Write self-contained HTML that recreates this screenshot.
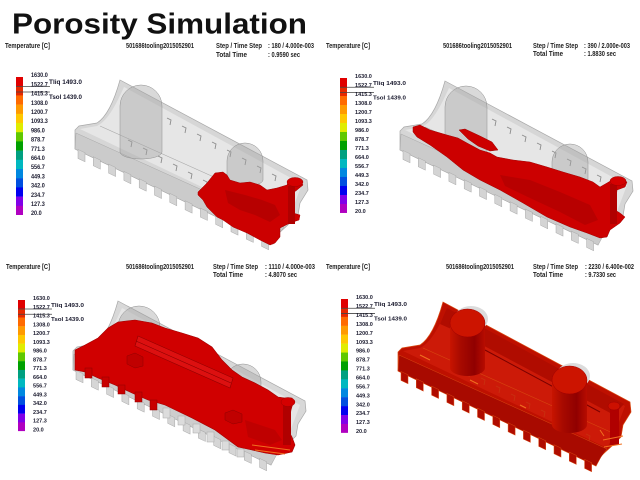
<!DOCTYPE html>
<html>
<head>
<meta charset="utf-8">
<style>
  html,body{margin:0;padding:0;background:#fff;}
  svg{display:block;}
  text{font-family:"Liberation Sans",Arial,sans-serif;font-weight:bold;}
  .h{font-size:7px;fill:#222;}
  .l{font-size:6px;fill:#1a1a2e;}
</style>
</head>
<body>
<svg width="640" height="480" viewBox="0 0 640 480" xmlns="http://www.w3.org/2000/svg">
<defs>
  <g id="cradle">
    <path d="M120,80 L307,180 L308,190 L300,203 L298,215 L290,223 L278,234 L273,244 L75,149 L75,130 L79,126 L97,123 C108,116 115,98 120,80 Z" style="fill:var(--o);stroke:var(--e)" stroke-width="0.7"/>
    <path d="M124,87 L302,184 L296,200 L291,213 L284,226 L80,129 L97,126 C109,120 117,102 124,87 Z" style="fill:var(--i)"/>
    <path d="M76,133 L284,227 L278,235 L273,244 L75,149 Z" style="fill:var(--f);stroke:var(--e)" stroke-width="0.5"/>
    <g transform="translate(75,149) skewY(25.6)" style="fill:var(--t);stroke:var(--e)" stroke-width="0.5">
      <rect x="3" y="-1" width="7" height="9"/>
      <rect x="18.3" y="-1" width="7" height="9"/>
      <rect x="33.6" y="-1" width="7" height="9"/>
      <rect x="48.9" y="-1" width="7" height="9"/>
      <rect x="64.2" y="-1" width="7" height="9"/>
      <rect x="79.5" y="-1" width="7" height="9"/>
      <rect x="94.8" y="-1" width="7" height="9"/>
      <rect x="110.1" y="-1" width="7" height="9"/>
      <rect x="125.4" y="-1" width="7" height="9"/>
      <rect x="140.7" y="-1" width="7" height="9"/>
      <rect x="156" y="-1" width="7" height="9"/>
      <rect x="171.3" y="-1" width="7" height="9"/>
      <rect x="186.6" y="-1" width="7" height="9"/>
    </g>
    <path d="M100,126 L292,212" style="stroke:var(--e)" stroke-width="0.6" fill="none"/>
    <path d="M167,118 l4,2 l-1,5 M182,126 l4,2 l-1,5 M197,134 l4,2 l-1,5 M212,142 l4,2 l-1,5 M227,150 l4,2 l-1,5 M242,158 l4,2 l-1,5 M257,166 l4,2 l-1,5 M272,174 l4,2 l-1,5 M128,140 l4,2 l-1,5 M143,148 l4,2 l-1,5 M158,156 l4,2 l-1,5 M173,164 l4,2 l-1,5 M188,172 l4,2 l-1,5 M203,180 l4,2 l-1,5 M218,188 l4,2 l-1,5 M233,196 l4,2 l-1,5 M248,204 l4,2 l-1,5 M263,212 l4,2 l-1,5" style="stroke:var(--n)" stroke-width="0.9" fill="none"/>
  </g>
  <g id="risers">
    <path d="M120,152 L120,106 A21,21 0 0 1 162,106 L162,152 A21,7 0 0 1 120,152 Z" fill="#a4a4a4" fill-opacity="0.42" stroke="#909090" stroke-width="0.5"/>
    <path d="M227,180 L227,161 A18,18 0 0 1 263,161 L263,180 A18,6 0 0 1 227,180 Z" fill="#a4a4a4" fill-opacity="0.42" stroke="#909090" stroke-width="0.5"/>
  </g>
  <g id="leg">
    <rect x="0" y="0" width="7" height="9.4" fill="#e00000"/>
    <rect x="0" y="9.2" width="7" height="9.4" fill="#e62800"/>
    <rect x="0" y="18.4" width="7" height="9.4" fill="#ff6a00"/>
    <rect x="0" y="27.6" width="7" height="9.4" fill="#ff9a00"/>
    <rect x="0" y="36.8" width="7" height="9.4" fill="#ffc800"/>
    <rect x="0" y="46" width="7" height="9.4" fill="#e0ec00"/>
    <rect x="0" y="55.2" width="7" height="9.4" fill="#60c800"/>
    <rect x="0" y="64.4" width="7" height="9.4" fill="#00a000"/>
    <rect x="0" y="73.6" width="7" height="9.4" fill="#00a080"/>
    <rect x="0" y="82.8" width="7" height="9.4" fill="#00b8c0"/>
    <rect x="0" y="92" width="7" height="9.4" fill="#0088e0"/>
    <rect x="0" y="101.2" width="7" height="9.4" fill="#0050e0"/>
    <rect x="0" y="110.4" width="7" height="9.4" fill="#0000f0"/>
    <rect x="0" y="119.6" width="7" height="9.4" fill="#8000e8"/>
    <rect x="0" y="128.8" width="7" height="9.2" fill="#b000c0"/>
    <line x1="0" y1="9.5" x2="34" y2="9.5" stroke="#444" stroke-width="0.8"/>
    <line x1="0" y1="15" x2="34" y2="15" stroke="#444" stroke-width="0.8"/>
    <g transform="translate(15,0) scale(0.92,1)">
    <text class="l" x="0" y="0.2">1630.0</text>
    <text class="l" x="0" y="9.4">1522.7</text>
    <text class="l" x="0" y="18.6">1415.3</text>
    <text class="l" x="0" y="27.8">1308.0</text>
    <text class="l" x="0" y="37">1200.7</text>
    <text class="l" x="0" y="46.2">1093.3</text>
    <text class="l" x="0" y="55.4">986.0</text>
    <text class="l" x="0" y="64.6">878.7</text>
    <text class="l" x="0" y="73.8">771.3</text>
    <text class="l" x="0" y="83">664.0</text>
    <text class="l" x="0" y="92.2">556.7</text>
    <text class="l" x="0" y="101.4">449.3</text>
    <text class="l" x="0" y="110.6">342.0</text>
    <text class="l" x="0" y="119.8">234.7</text>
    <text class="l" x="0" y="129">127.3</text>
    <text class="l" x="0" y="138.2">20.0</text>
    </g>
    <text class="l" x="33" y="7.2" textLength="33" lengthAdjust="spacingAndGlyphs">Tliq  1493.0</text>
    <text class="l" x="33" y="22.2" textLength="33" lengthAdjust="spacingAndGlyphs">Tsol  1439.0</text>
  </g>
  <linearGradient id="cyl" x1="0" x2="1" y1="0" y2="0">
    <stop offset="0" stop-color="#c81400"/>
    <stop offset="0.3" stop-color="#a80a00"/>
    <stop offset="0.7" stop-color="#900000"/>
    <stop offset="1" stop-color="#b80c00"/>
  </linearGradient>
</defs>

<text x="12" y="33.5" font-size="29" fill="#111" textLength="295" lengthAdjust="spacingAndGlyphs">Porosity Simulation</text>

<text class="h" x="5" y="48" textLength="45" lengthAdjust="spacingAndGlyphs">Temperature [C]</text>
<text class="h" x="126" y="48" textLength="68" lengthAdjust="spacingAndGlyphs">501686tooling2015052901</text>
<text class="h" x="216" y="48" textLength="46" lengthAdjust="spacingAndGlyphs">Step / Time Step</text>
<text class="h" x="268" y="48" textLength="46" lengthAdjust="spacingAndGlyphs">: 180 / 4.000e-003</text>
<text class="h" x="216" y="57" textLength="31" lengthAdjust="spacingAndGlyphs">Total  Time</text>
<text class="h" x="268" y="57" textLength="32" lengthAdjust="spacingAndGlyphs">: 0.9590 sec</text>

<text class="h" x="326" y="48" textLength="44" lengthAdjust="spacingAndGlyphs">Temperature [C]</text>
<text class="h" x="443" y="48" textLength="69" lengthAdjust="spacingAndGlyphs">501686tooling2015052901</text>
<text class="h" x="533" y="48" textLength="45" lengthAdjust="spacingAndGlyphs">Step / Time Step</text>
<text class="h" x="584" y="48" textLength="46" lengthAdjust="spacingAndGlyphs">: 390 / 2.000e-003</text>
<text class="h" x="533" y="56" textLength="30" lengthAdjust="spacingAndGlyphs">Total  Time</text>
<text class="h" x="584" y="56" textLength="32" lengthAdjust="spacingAndGlyphs">: 1.8830 sec</text>

<text class="h" x="6" y="269" textLength="44" lengthAdjust="spacingAndGlyphs">Temperature [C]</text>
<text class="h" x="126" y="269" textLength="68" lengthAdjust="spacingAndGlyphs">501686tooling2015052901</text>
<text class="h" x="213" y="269" textLength="45" lengthAdjust="spacingAndGlyphs">Step / Time Step</text>
<text class="h" x="265" y="269" textLength="50" lengthAdjust="spacingAndGlyphs">: 1110 / 4.000e-003</text>
<text class="h" x="213" y="277" textLength="30" lengthAdjust="spacingAndGlyphs">Total  Time</text>
<text class="h" x="265" y="277" textLength="32" lengthAdjust="spacingAndGlyphs">: 4.8070 sec</text>

<text class="h" x="326" y="269" textLength="44" lengthAdjust="spacingAndGlyphs">Temperature [C]</text>
<text class="h" x="446" y="269" textLength="68" lengthAdjust="spacingAndGlyphs">501686tooling2015052901</text>
<text class="h" x="533" y="269" textLength="45" lengthAdjust="spacingAndGlyphs">Step / Time Step</text>
<text class="h" x="585" y="269" textLength="49" lengthAdjust="spacingAndGlyphs">: 2230 / 6.400e-002</text>
<text class="h" x="533" y="277" textLength="30" lengthAdjust="spacingAndGlyphs">Total  Time</text>
<text class="h" x="585" y="277" textLength="31" lengthAdjust="spacingAndGlyphs">: 9.7330 sec</text>

<use href="#leg" transform="translate(16,77)"/>
<use href="#leg" transform="translate(340,78) scale(1,0.978)"/>
<use href="#leg" transform="translate(18,300) scale(1,0.95)"/>
<use href="#leg" transform="translate(341,299) scale(1,0.97)"/>

<!-- Panel 1 -->
<g style="--o:#d6d6d6;--i:#e6e6e6;--f:#cbcbcb;--t:#d4d4d4;--e:#a8a8a8;--n:#8c8c8c">
  <use href="#cradle"/>
</g>
<use href="#risers"/>
<path d="M198,192 L207,183 L215,173 L223,172 L227,175 L230,180 L240,183 L250,182 L260,185 L267,190 L277,188 L287,185 L288,182 L292,178 L300,180 L303,185 L297,190 L293,193 L293,213 L300,215 L299,220 L290,223 L280,228 L280,237 L275,243 L270,245 L260,240 L247,233 L233,227 L223,220 L217,217 L212,212 L207,207 L203,200 L198,195 Z" fill="#cc0000" stroke="#a00000" stroke-width="0.5"/>
<path d="M225,190 L245,195 L262,200 L275,205 L280,215 L270,222 L255,215 L240,210 L228,203 Z" fill="#a80000" opacity="0.6"/>
<rect x="288" y="186" width="7" height="38" fill="#b00000"/>
<ellipse cx="295" cy="182" rx="8" ry="4.5" fill="#d40000" stroke="#a00000" stroke-width="0.5"/>

<!-- Panel 2 -->
<g transform="translate(325,1)" style="--o:#d6d6d6;--i:#e6e6e6;--f:#cbcbcb;--t:#d4d4d4;--e:#a8a8a8;--n:#8c8c8c">
  <use href="#cradle"/>
  <use href="#risers"/>
</g>
<path d="M413,127 L420,125 L430,130 L447,135 L458,138 L467,143 L480,150 L490,153 L497,157 L513,160 L530,162 L547,167 L563,172 L580,177 L593,182 L600,187 L607,183 L612,180 L620,178 L627,182 L625,187 L617,190 L615,210 L620,213 L625,217 L620,223 L610,230 L607,237 L600,238 L587,233 L570,227 L547,217 L523,203 L500,190 L480,180 L463,170 L447,157 L430,145 L417,137 L413,132 Z" fill="#cc0000" stroke="#a00000" stroke-width="0.5"/>
<path d="M459,130 L465,129 L480,136 L492,142 L498,150 L490,151 L478,146 L468,139 Z" fill="#cc0000" stroke="#a00000" stroke-width="0.5"/>
<path d="M500,175 L530,180 L560,192 L590,205 L598,220 L585,225 L560,212 L530,198 L505,186 Z" fill="#a80000" opacity="0.55"/>
<rect x="610" y="184" width="7" height="40" fill="#b00000"/>
<ellipse cx="618" cy="181" rx="8" ry="4.5" fill="#d40000" stroke="#a00000" stroke-width="0.5"/>

<!-- Panel 3 -->
<g transform="translate(-2,221)" style="--o:#d8d8d8;--i:#e6e6e6;--f:#cdcdcd;--t:#d6d6d6;--e:#a8a8a8;--n:#999">
  <use href="#cradle"/>
  <use href="#risers"/>
</g>
<path d="M75,350 L85,345 L98,338 L108,328 L118,322 L135,320 L152,323 L165,328 L182,333 L198,338 L212,347 L222,360 L232,370 L242,377 L255,383 L268,390 L278,397 L285,398 L292,398 L293,403 L291,410 L288,430 L292,437 L295,445 L292,452 L278,455 L265,453 L252,450 L238,447 L215,430 L192,418 L165,405 L148,400 L132,393 L115,385 L98,378 L85,372 L75,370 Z" fill="#d00000" stroke="#a00000" stroke-width="0.6"/>
<g fill="#c80000" stroke="#900000" stroke-width="0.5">
  <rect x="85" y="368" width="7" height="10"/>
  <rect x="102" y="377" width="7" height="10"/>
  <rect x="118" y="385" width="7" height="9"/>
  <rect x="135" y="392" width="7" height="10"/>
  <rect x="150" y="400" width="7" height="10"/>
</g>
<g fill="#dcdcdc" stroke="#a8a8a8" stroke-width="0.5">
  <rect x="163" y="408" width="7" height="10"/>
  <rect x="178" y="416" width="7" height="9"/>
  <rect x="193" y="424" width="7" height="9"/>
  <rect x="207" y="432" width="7" height="10"/>
  <rect x="222" y="441" width="7" height="9"/>
  <rect x="237" y="449" width="7" height="8"/>
</g>
<path d="M138,336 L233,378 L230,388 L135,346 Z" fill="#dc1010" stroke="#900000" stroke-width="0.6"/>
<path d="M136,341 L231,383" stroke="#8a0000" stroke-width="0.6"/>
<path d="M127,356 L135,353 L143,357 L143,366 L135,368 L127,364 Z" fill="#c00000" stroke="#900000" stroke-width="0.5"/>
<path d="M225,413 L233,410 L242,414 L242,422 L233,424 L225,420 Z" fill="#c00000" stroke="#900000" stroke-width="0.5"/>
<path d="M245,420 L275,430 L282,440 L270,445 L248,437 Z" fill="#b80000" opacity="0.7"/>
<rect x="283" y="403" width="8" height="42" fill="#b00000"/>
<ellipse cx="288" cy="402" rx="7" ry="4.5" fill="#d40000" stroke="#a00000" stroke-width="0.5"/>
<path d="M252,445 L290,450 M255,450 L285,454" stroke="#f07020" stroke-width="1"/>

<!-- Panel 4 -->
<g transform="translate(323,222)" style="--o:#be1000;--i:#cc1a08;--f:#a80a00;--t:#b00c00;--e:#d84810;--n:#c83010">
  <use href="#cradle"/>
</g>
<path d="M447,308 L624,404 L614,415 L458,332 L440,324 Z" fill="#b00c00"/>
<path d="M485,350 L600,412" stroke="#7a0000" stroke-width="1"/>
<path d="M420,355 L430,360 M470,380 L478,384 M520,405 L526,408 M560,425 L566,428 M600,430 L604,436" stroke="#f07020" stroke-width="1"/>
<ellipse cx="471" cy="319" rx="17" ry="13" fill="#dcdcdc"/>
<path d="M450,323 L450,368 A17.5,8 0 0 0 485,368 L485,323 Z" fill="url(#cyl)"/>
<ellipse cx="467.5" cy="323" rx="17.5" ry="14" fill="#cc1400" stroke="#a00000" stroke-width="0.5"/>
<ellipse cx="573" cy="376" rx="17" ry="13" fill="#dcdcdc"/>
<path d="M552,380 L552,425 A17.5,8 0 0 0 587,425 L587,380 Z" fill="url(#cyl)"/>
<ellipse cx="569.5" cy="380" rx="17.5" ry="14" fill="#cc1400" stroke="#a00000" stroke-width="0.5"/>
<rect x="610" y="407" width="9" height="38" fill="#b00000"/>
<ellipse cx="614" cy="406" rx="6" ry="4" fill="#cc1000" stroke="#a00000" stroke-width="0.5"/>
<path d="M603,440 L623,436 M604,447 L622,444" stroke="#f07020" stroke-width="1"/>
</svg>
</body>
</html>
